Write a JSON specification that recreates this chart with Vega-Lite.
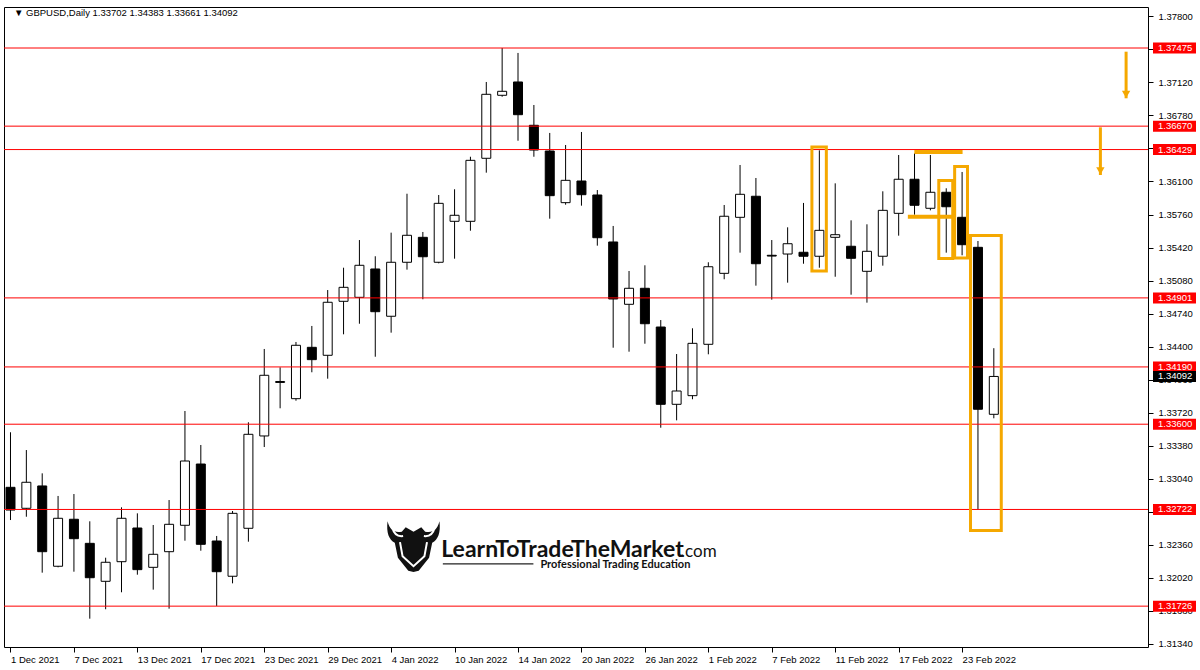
{
  "$schema": "https://vega.github.io/schema/vega-lite/v6.json",
  "autosize": {"type": "none"},
  "width": 1144,
  "height": 640,
  "padding": {"left": 4, "top": 7, "right": 52, "bottom": 23},
  "background": "#ffffff",
  "config": {
    "view": {"stroke": "#000000", "strokeWidth": 1},
    "axis": {"labelOverlap": false, "labelFlush": false, "labelBound": false, "title": null},
    "axisX": {"orient": "bottom",
              "labelExpr": "['1 Dec 2021','7 Dec 2021','13 Dec 2021','17 Dec 2021','23 Dec 2021','29 Dec 2021','4 Jan 2022','10 Jan 2022','14 Jan 2022','20 Jan 2022','26 Jan 2022','1 Feb 2022','7 Feb 2022','11 Feb 2022','17 Feb 2022','23 Feb 2022'][round(datum.value/4)]",
              "labelAlign": "left", "labelFlush": false, "tickSize": 5, "tickColor": "#000000", "labelPadding": 2,
              "domain": false, "grid": false, "labelFont": "Liberation Sans", "labelFontSize": 9.5, "labelColor": "#000000", "labelOverlap": false},
    "axisY": {"orient": "right", "format": ".5f", "tickSize": 5, "tickColor": "#000000", "labelPadding": 5, "domain": false, "grid": false,
              "labelFont": "Liberation Sans", "labelFontSize": 9.5, "labelColor": "#000000", "labelOverlap": false, "labelSeparation": 0, "labelBound": false, "labelBaseline": "middle"}
  },
  "datasets": {
    "candles": [
      {"bar":0,"date":"2021-12-01","open":1.32950,"high":1.33517,"low":1.32613,"close":1.32716},
      {"bar":1,"date":"2021-12-02","open":1.32734,"high":1.33334,"low":1.32647,"close":1.33002},
      {"bar":2,"date":"2021-12-03","open":1.32964,"high":1.33094,"low":1.32071,"close":1.32287},
      {"bar":3,"date":"2021-12-06","open":1.32137,"high":1.32861,"low":1.32126,"close":1.32631},
      {"bar":4,"date":"2021-12-07","open":1.32621,"high":1.32881,"low":1.32081,"close":1.32421},
      {"bar":5,"date":"2021-12-08","open":1.32373,"high":1.32600,"low":1.31597,"close":1.32019},
      {"bar":6,"date":"2021-12-09","open":1.31982,"high":1.32225,"low":1.31694,"close":1.32178},
      {"bar":7,"date":"2021-12-10","open":1.32184,"high":1.32744,"low":1.31869,"close":1.32631},
      {"bar":8,"date":"2021-12-13","open":1.32531,"high":1.32682,"low":1.32050,"close":1.32102},
      {"bar":9,"date":"2021-12-14","open":1.32126,"high":1.32562,"low":1.31896,"close":1.32260},
      {"bar":10,"date":"2021-12-15","open":1.32287,"high":1.32819,"low":1.31700,"close":1.32569},
      {"bar":11,"date":"2021-12-16","open":1.32559,"high":1.33736,"low":1.32400,"close":1.33221},
      {"bar":12,"date":"2021-12-17","open":1.33190,"high":1.33386,"low":1.32297,"close":1.32363},
      {"bar":13,"date":"2021-12-20","open":1.32397,"high":1.32449,"low":1.31728,"close":1.32081},
      {"bar":14,"date":"2021-12-21","open":1.32034,"high":1.32706,"low":1.31961,"close":1.32682},
      {"bar":15,"date":"2021-12-22","open":1.32528,"high":1.33620,"low":1.32390,"close":1.33496},
      {"bar":16,"date":"2021-12-23","open":1.33479,"high":1.34375,"low":1.33365,"close":1.34104},
      {"bar":17,"date":"2021-12-24","open":1.34030,"high":1.34186,"low":1.33764,"close":1.34040},
      {"bar":18,"date":"2021-12-27","open":1.33863,"high":1.34447,"low":1.33842,"close":1.34413},
      {"bar":19,"date":"2021-12-28","open":1.34392,"high":1.34612,"low":1.34135,"close":1.34265},
      {"bar":20,"date":"2021-12-29","open":1.34310,"high":1.34982,"low":1.34069,"close":1.34856},
      {"bar":21,"date":"2021-12-30","open":1.34866,"high":1.35212,"low":1.34526,"close":1.35010},
      {"bar":22,"date":"2021-12-31","open":1.34907,"high":1.35497,"low":1.34635,"close":1.35237},
      {"bar":23,"date":"2022-01-03","open":1.35199,"high":1.35330,"low":1.34295,"close":1.34759},
      {"bar":24,"date":"2022-01-04","open":1.34712,"high":1.35573,"low":1.34543,"close":1.35268},
      {"bar":25,"date":"2022-01-05","open":1.35268,"high":1.35974,"low":1.35192,"close":1.35546},
      {"bar":26,"date":"2022-01-06","open":1.35525,"high":1.35580,"low":1.34887,"close":1.35325},
      {"bar":27,"date":"2022-01-07","open":1.35268,"high":1.35961,"low":1.35257,"close":1.35875},
      {"bar":28,"date":"2022-01-10","open":1.35690,"high":1.36020,"low":1.35305,"close":1.35752},
      {"bar":29,"date":"2022-01-11","open":1.35690,"high":1.36355,"low":1.35593,"close":1.36318},
      {"bar":30,"date":"2022-01-12","open":1.36339,"high":1.37125,"low":1.36191,"close":1.36998},
      {"bar":31,"date":"2022-01-13","open":1.36988,"high":1.37475,"low":1.36973,"close":1.37029},
      {"bar":32,"date":"2022-01-14","open":1.37125,"high":1.37424,"low":1.36520,"close":1.36788},
      {"bar":33,"date":"2022-01-17","open":1.36679,"high":1.36888,"low":1.36355,"close":1.36424},
      {"bar":34,"date":"2022-01-18","open":1.36414,"high":1.36600,"low":1.35717,"close":1.35954},
      {"bar":35,"date":"2022-01-19","open":1.35882,"high":1.36476,"low":1.35861,"close":1.36112},
      {"bar":36,"date":"2022-01-20","open":1.36105,"high":1.36610,"low":1.35851,"close":1.35964},
      {"bar":37,"date":"2022-01-21","open":1.35961,"high":1.36012,"low":1.35439,"close":1.35521},
      {"bar":38,"date":"2022-01-24","open":1.35477,"high":1.35642,"low":1.34388,"close":1.34890},
      {"bar":39,"date":"2022-01-25","open":1.34835,"high":1.35178,"low":1.34347,"close":1.35000},
      {"bar":40,"date":"2022-01-26","open":1.35000,"high":1.35237,"low":1.34429,"close":1.34635},
      {"bar":41,"date":"2022-01-27","open":1.34601,"high":1.34673,"low":1.33564,"close":1.33805},
      {"bar":42,"date":"2022-01-28","open":1.33805,"high":1.34323,"low":1.33640,"close":1.33942},
      {"bar":43,"date":"2022-01-31","open":1.33894,"high":1.34588,"low":1.33857,"close":1.34433},
      {"bar":44,"date":"2022-02-01","open":1.34423,"high":1.35268,"low":1.34320,"close":1.35222},
      {"bar":45,"date":"2022-02-02","open":1.35154,"high":1.35858,"low":1.35093,"close":1.35742},
      {"bar":46,"date":"2022-02-03","open":1.35731,"high":1.36270,"low":1.35367,"close":1.35968},
      {"bar":47,"date":"2022-02-04","open":1.35948,"high":1.36136,"low":1.35027,"close":1.35253},
      {"bar":48,"date":"2022-02-07","open":1.35340,"high":1.35497,"low":1.34883,"close":1.35332},
      {"bar":49,"date":"2022-02-08","open":1.35353,"high":1.35628,"low":1.35058,"close":1.35459},
      {"bar":50,"date":"2022-02-09","open":1.35371,"high":1.35879,"low":1.35253,"close":1.35330},
      {"bar":51,"date":"2022-02-10","open":1.35330,"high":1.36421,"low":1.35212,"close":1.35597},
      {"bar":52,"date":"2022-02-11","open":1.35525,"high":1.36081,"low":1.35119,"close":1.35552},
      {"bar":53,"date":"2022-02-14","open":1.35433,"high":1.35700,"low":1.34934,"close":1.35309},
      {"bar":54,"date":"2022-02-15","open":1.35175,"high":1.35659,"low":1.34852,"close":1.35381},
      {"bar":55,"date":"2022-02-16","open":1.35330,"high":1.35999,"low":1.35233,"close":1.35803},
      {"bar":56,"date":"2022-02-17","open":1.35772,"high":1.36373,"low":1.35542,"close":1.36123},
      {"bar":57,"date":"2022-02-18","open":1.36123,"high":1.36390,"low":1.35758,"close":1.35855},
      {"bar":58,"date":"2022-02-21","open":1.35824,"high":1.36373,"low":1.35803,"close":1.35989},
      {"bar":59,"date":"2022-02-22","open":1.35989,"high":1.36030,"low":1.35367,"close":1.35840},
      {"bar":60,"date":"2022-02-23","open":1.35731,"high":1.36198,"low":1.35340,"close":1.35449},
      {"bar":61,"date":"2022-02-24","open":1.35422,"high":1.35487,"low":1.32722,"close":1.33754},
      {"bar":62,"date":"2022-02-25","open":1.33702,"high":1.34383,"low":1.33661,"close":1.34092}
    ],
    "levels": [
      {"price":1.37475},{"price":1.36670},{"price":1.36429},{"price":1.34901},
      {"price":1.34190},{"price":1.33600},{"price":1.32722},{"price":1.31726}
    ],
    "bid": [{"price":1.34092}],
    "header": [{"x":0.22,"y":1.37805,"text":"▼ GBPUSD,Daily  1.33702 1.34383 1.33661 1.34092"}],
    "boxes": [
      {"x1":50.53,"x2":51.44,"top":1.36455,"bottom":1.35178},
      {"x1":58.53,"x2":59.41,"top":1.36110,"bottom":1.35307},
      {"x1":59.53,"x2":60.34,"top":1.36255,"bottom":1.35312},
      {"x1":60.53,"x2":62.47,"top":1.35544,"bottom":1.32505}
    ],
    "marks": [
      {"x1":56.99,"x2":60.03,"price":1.36404},
      {"x1":56.58,"x2":59.53,"price":1.35737}
    ],
    "arrows": [
      {"x":70.34,"top":1.37437,"tip":1.36957},
      {"x":68.72,"top":1.36658,"tip":1.36167}
    ],
    "brand": [{"x":27.16,"y":1.32235,"text":"LearnToTradeTheMarket"}],
    "brandcom": [{"x":42.28,"y":1.32235,"text":".com"}],
    "tagline": [{"x":33.41,"y":1.32122,"text":"Professional Trading Education"}],
    "tagrule": [{"x1":27.26,"x2":32.97,"y":1.32162}],
    "icon": [{"x":25.41,"y":1.32346}]
  },
  "layer": [
    {
      "data": {"name": "candles"},
      "mark": {"type": "rule", "color": "#000000", "strokeWidth": 1, "clip": true},
      "encoding": {
        "x": {"field": "bar", "type": "quantitative", "title": null, "axis": {"values": [0,4,8,12,16,20,24,28,32,36,40,44,48,52,56,60]}, "scale": {"domain": [-0.094, 71.406], "nice": false, "zero": false}},
        "y": {"field": "low", "type": "quantitative", "title": null, "axis": {"values": [1.378,1.3746,1.3712,1.3678,1.3644,1.361,1.3576,1.3542,1.3508,1.3474,1.344,1.3406,1.3372,1.3338,1.3304,1.327,1.3236,1.3202,1.3168,1.3134]}, "scale": {"domain": [1.313053, 1.378973], "nice": false, "zero": false}},
        "y2": {"field": "high"}
      }
    },
    {
      "data": {"name": "candles"},
      "mark": {"type": "bar", "size": 9, "stroke": "#000000", "strokeWidth": 1, "clip": true},
      "encoding": {
        "x": {"field": "bar", "type": "quantitative", "title": null, "axis": {"values": [0,4,8,12,16,20,24,28,32,36,40,44,48,52,56,60]}, "scale": {"domain": [-0.094, 71.406], "nice": false, "zero": false}},
        "y": {"field": "open", "type": "quantitative", "title": null, "axis": {"values": [1.378,1.3746,1.3712,1.3678,1.3644,1.361,1.3576,1.3542,1.3508,1.3474,1.344,1.3406,1.3372,1.3338,1.3304,1.327,1.3236,1.3202,1.3168,1.3134]}, "scale": {"domain": [1.313053, 1.378973], "nice": false, "zero": false}},
        "y2": {"field": "close"},
        "fill": {"condition": {"test": "datum.close >= datum.open", "value": "#ffffff"}, "value": "#000000"}
      }
    },
    {
      "data": {"name": "levels"},
      "mark": {"type": "rule", "color": "#ff0000", "strokeWidth": 1},
      "encoding": {
        "y": {"field": "price", "type": "quantitative", "title": null, "axis": {"values": [1.378,1.3746,1.3712,1.3678,1.3644,1.361,1.3576,1.3542,1.3508,1.3474,1.344,1.3406,1.3372,1.3338,1.3304,1.327,1.3236,1.3202,1.3168,1.3134]}, "scale": {"domain": [1.313053, 1.378973], "nice": false, "zero": false}}
      }
    },
    {
      "data": {"name": "header"},
      "mark": {"type": "text", "align": "left", "baseline": "alphabetic", "font": "Liberation Sans", "fontSize": 9.5, "color": "#000000"},
      "encoding": {
        "x": {"field": "x", "type": "quantitative", "title": null, "axis": {"values": [0,4,8,12,16,20,24,28,32,36,40,44,48,52,56,60]}, "scale": {"domain": [-0.094, 71.406], "nice": false, "zero": false}},
        "y": {"field": "y", "type": "quantitative", "title": null, "axis": {"values": [1.378,1.3746,1.3712,1.3678,1.3644,1.361,1.3576,1.3542,1.3508,1.3474,1.344,1.3406,1.3372,1.3338,1.3304,1.327,1.3236,1.3202,1.3168,1.3134]}, "scale": {"domain": [1.313053, 1.378973], "nice": false, "zero": false}},
        "text": {"field": "text"}
      }
    },
    {
      "data": {"name": "boxes"},
      "mark": {"type": "rect", "fillOpacity": 0, "stroke": "#F5A800", "strokeWidth": 3},
      "encoding": {
        "x": {"field": "x1", "type": "quantitative", "title": null, "axis": {"values": [0,4,8,12,16,20,24,28,32,36,40,44,48,52,56,60]}, "scale": {"domain": [-0.094, 71.406], "nice": false, "zero": false}},
        "x2": {"field": "x2"},
        "y": {"field": "top", "type": "quantitative", "title": null, "axis": {"values": [1.378,1.3746,1.3712,1.3678,1.3644,1.361,1.3576,1.3542,1.3508,1.3474,1.344,1.3406,1.3372,1.3338,1.3304,1.327,1.3236,1.3202,1.3168,1.3134]}, "scale": {"domain": [1.313053, 1.378973], "nice": false, "zero": false}},
        "y2": {"field": "bottom"}
      }
    },
    {
      "data": {"name": "marks"},
      "mark": {"type": "rule", "color": "#F5A800", "strokeWidth": 4, "strokeCap": "butt"},
      "encoding": {
        "x": {"field": "x1", "type": "quantitative", "title": null, "axis": {"values": [0,4,8,12,16,20,24,28,32,36,40,44,48,52,56,60]}, "scale": {"domain": [-0.094, 71.406], "nice": false, "zero": false}},
        "x2": {"field": "x2"},
        "y": {"field": "price", "type": "quantitative", "title": null, "axis": {"values": [1.378,1.3746,1.3712,1.3678,1.3644,1.361,1.3576,1.3542,1.3508,1.3474,1.344,1.3406,1.3372,1.3338,1.3304,1.327,1.3236,1.3202,1.3168,1.3134]}, "scale": {"domain": [1.313053, 1.378973], "nice": false, "zero": false}}
      }
    },
    {
      "data": {"name": "arrows"},
      "mark": {"type": "rule", "color": "#F5A800", "strokeWidth": 3, "strokeCap": "butt"},
      "encoding": {
        "x": {"field": "x", "type": "quantitative", "title": null, "axis": {"values": [0,4,8,12,16,20,24,28,32,36,40,44,48,52,56,60]}, "scale": {"domain": [-0.094, 71.406], "nice": false, "zero": false}},
        "y": {"field": "top", "type": "quantitative", "title": null, "axis": {"values": [1.378,1.3746,1.3712,1.3678,1.3644,1.361,1.3576,1.3542,1.3508,1.3474,1.344,1.3406,1.3372,1.3338,1.3304,1.327,1.3236,1.3202,1.3168,1.3134]}, "scale": {"domain": [1.313053, 1.378973], "nice": false, "zero": false}},
        "y2": {"field": "tip"}
      }
    },
    {
      "data": {"name": "arrows"},
      "mark": {"type": "point", "shape": "triangle-down", "filled": true, "color": "#F5A800", "size": 70, "opacity": 1, "yOffset": -4},
      "encoding": {
        "x": {"field": "x", "type": "quantitative", "title": null, "axis": {"values": [0,4,8,12,16,20,24,28,32,36,40,44,48,52,56,60]}, "scale": {"domain": [-0.094, 71.406], "nice": false, "zero": false}},
        "y": {"field": "tip", "type": "quantitative", "title": null, "axis": {"values": [1.378,1.3746,1.3712,1.3678,1.3644,1.361,1.3576,1.3542,1.3508,1.3474,1.344,1.3406,1.3372,1.3338,1.3304,1.327,1.3236,1.3202,1.3168,1.3134]}, "scale": {"domain": [1.313053, 1.378973], "nice": false, "zero": false}}
      }
    },
    {
      "data": {"name": "icon"},
      "mark": {"type": "point", "filled": true, "color": "#111111", "opacity": 1, "size": 2700,
               "shape": "M-1,-0.95 C-0.9,-0.6 -0.75,-0.5 -0.45,-0.55 L-0.3,-0.72 L0,-0.55 L0.3,-0.72 L0.45,-0.55 C0.75,-0.5 0.9,-0.6 1,-0.95 C1.05,-0.5 0.95,-0.25 0.72,-0.12 L0.6,0.45 L0.2,0.95 L0,1 L-0.2,0.95 L-0.6,0.45 L-0.72,-0.12 C-0.95,-0.25 -1.05,-0.5 -1,-0.95 Z"},
      "encoding": {
        "x": {"field": "x", "type": "quantitative", "title": null, "axis": {"values": [0,4,8,12,16,20,24,28,32,36,40,44,48,52,56,60]}, "scale": {"domain": [-0.094, 71.406], "nice": false, "zero": false}},
        "y": {"field": "y", "type": "quantitative", "title": null, "axis": {"values": [1.378,1.3746,1.3712,1.3678,1.3644,1.361,1.3576,1.3542,1.3508,1.3474,1.344,1.3406,1.3372,1.3338,1.3304,1.327,1.3236,1.3202,1.3168,1.3134]}, "scale": {"domain": [1.313053, 1.378973], "nice": false, "zero": false}}
      }
    },
    {
      "data": {"name": "icon"},
      "mark": {"type": "point", "filled": false, "stroke": "#ffffff", "strokeWidth": 2, "opacity": 1, "size": 2700,
               "shape": "M-0.82,-0.72 C-0.75,-0.45 -0.6,-0.35 -0.4,-0.38 M0.82,-0.72 C0.75,-0.45 0.6,-0.35 0.4,-0.38 M-0.52,-0.15 L-0.42,0.4 L0,0.78 L0.42,0.4 L0.52,-0.15"},
      "encoding": {
        "x": {"field": "x", "type": "quantitative", "title": null, "axis": {"values": [0,4,8,12,16,20,24,28,32,36,40,44,48,52,56,60]}, "scale": {"domain": [-0.094, 71.406], "nice": false, "zero": false}},
        "y": {"field": "y", "type": "quantitative", "title": null, "axis": {"values": [1.378,1.3746,1.3712,1.3678,1.3644,1.361,1.3576,1.3542,1.3508,1.3474,1.344,1.3406,1.3372,1.3338,1.3304,1.327,1.3236,1.3202,1.3168,1.3134]}, "scale": {"domain": [1.313053, 1.378973], "nice": false, "zero": false}}
      }
    },
    {
      "data": {"name": "brand"},
      "mark": {"type": "text", "align": "left", "baseline": "alphabetic", "font": "Lato", "fontSize": 23, "fontWeight": "bold", "color": "#111111"},
      "encoding": {
        "x": {"field": "x", "type": "quantitative", "title": null, "axis": {"values": [0,4,8,12,16,20,24,28,32,36,40,44,48,52,56,60]}, "scale": {"domain": [-0.094, 71.406], "nice": false, "zero": false}},
        "y": {"field": "y", "type": "quantitative", "title": null, "axis": {"values": [1.378,1.3746,1.3712,1.3678,1.3644,1.361,1.3576,1.3542,1.3508,1.3474,1.344,1.3406,1.3372,1.3338,1.3304,1.327,1.3236,1.3202,1.3168,1.3134]}, "scale": {"domain": [1.313053, 1.378973], "nice": false, "zero": false}},
        "text": {"field": "text"}
      }
    },
    {
      "data": {"name": "brandcom"},
      "mark": {"type": "text", "align": "left", "baseline": "alphabetic", "font": "Lato", "fontSize": 17, "color": "#111111"},
      "encoding": {
        "x": {"field": "x", "type": "quantitative", "title": null, "axis": {"values": [0,4,8,12,16,20,24,28,32,36,40,44,48,52,56,60]}, "scale": {"domain": [-0.094, 71.406], "nice": false, "zero": false}},
        "y": {"field": "y", "type": "quantitative", "title": null, "axis": {"values": [1.378,1.3746,1.3712,1.3678,1.3644,1.361,1.3576,1.3542,1.3508,1.3474,1.344,1.3406,1.3372,1.3338,1.3304,1.327,1.3236,1.3202,1.3168,1.3134]}, "scale": {"domain": [1.313053, 1.378973], "nice": false, "zero": false}},
        "text": {"field": "text"}
      }
    },
    {
      "data": {"name": "tagline"},
      "mark": {"type": "text", "align": "left", "baseline": "alphabetic", "font": "Lato", "fontSize": 11, "fontWeight": "bold", "color": "#111111"},
      "encoding": {
        "x": {"field": "x", "type": "quantitative", "title": null, "axis": {"values": [0,4,8,12,16,20,24,28,32,36,40,44,48,52,56,60]}, "scale": {"domain": [-0.094, 71.406], "nice": false, "zero": false}},
        "y": {"field": "y", "type": "quantitative", "title": null, "axis": {"values": [1.378,1.3746,1.3712,1.3678,1.3644,1.361,1.3576,1.3542,1.3508,1.3474,1.344,1.3406,1.3372,1.3338,1.3304,1.327,1.3236,1.3202,1.3168,1.3134]}, "scale": {"domain": [1.313053, 1.378973], "nice": false, "zero": false}},
        "text": {"field": "text"}
      }
    },
    {
      "data": {"name": "tagrule"},
      "mark": {"type": "rule", "color": "#222222", "strokeWidth": 1.2},
      "encoding": {
        "x": {"field": "x1", "type": "quantitative", "title": null, "axis": {"values": [0,4,8,12,16,20,24,28,32,36,40,44,48,52,56,60]}, "scale": {"domain": [-0.094, 71.406], "nice": false, "zero": false}},
        "x2": {"field": "x2"},
        "y": {"field": "y", "type": "quantitative", "title": null, "axis": {"values": [1.378,1.3746,1.3712,1.3678,1.3644,1.361,1.3576,1.3542,1.3508,1.3474,1.344,1.3406,1.3372,1.3338,1.3304,1.327,1.3236,1.3202,1.3168,1.3134]}, "scale": {"domain": [1.313053, 1.378973], "nice": false, "zero": false}}
      }
    },
    {
      "data": {"name": "levels"},
      "mark": {"type": "tick", "color": "#ff0000", "thickness": 11, "size": 43, "xOffset": 26.5, "opacity": 1},
      "encoding": {
        "x": {"value": "width"},
        "y": {"field": "price", "type": "quantitative", "title": null, "axis": {"values": [1.378,1.3746,1.3712,1.3678,1.3644,1.361,1.3576,1.3542,1.3508,1.3474,1.344,1.3406,1.3372,1.3338,1.3304,1.327,1.3236,1.3202,1.3168,1.3134]}, "scale": {"domain": [1.313053, 1.378973], "nice": false, "zero": false}}
      }
    },
    {
      "data": {"name": "levels"},
      "mark": {"type": "text", "align": "left", "baseline": "middle", "dx": 10, "font": "Liberation Sans", "fontSize": 9.5, "color": "#ffffff"},
      "encoding": {
        "x": {"value": "width"},
        "y": {"field": "price", "type": "quantitative", "title": null, "axis": {"values": [1.378,1.3746,1.3712,1.3678,1.3644,1.361,1.3576,1.3542,1.3508,1.3474,1.344,1.3406,1.3372,1.3338,1.3304,1.327,1.3236,1.3202,1.3168,1.3134]}, "scale": {"domain": [1.313053, 1.378973], "nice": false, "zero": false}},
        "text": {"field": "price", "type": "quantitative", "format": ".5f"}
      }
    },
    {
      "data": {"name": "bid"},
      "mark": {"type": "tick", "color": "#000000", "thickness": 11, "size": 43, "xOffset": 26.5, "opacity": 1},
      "encoding": {
        "x": {"value": "width"},
        "y": {"field": "price", "type": "quantitative", "title": null, "axis": {"values": [1.378,1.3746,1.3712,1.3678,1.3644,1.361,1.3576,1.3542,1.3508,1.3474,1.344,1.3406,1.3372,1.3338,1.3304,1.327,1.3236,1.3202,1.3168,1.3134]}, "scale": {"domain": [1.313053, 1.378973], "nice": false, "zero": false}}
      }
    },
    {
      "data": {"name": "bid"},
      "mark": {"type": "text", "align": "left", "baseline": "middle", "dx": 10, "font": "Liberation Sans", "fontSize": 9.5, "color": "#ffffff"},
      "encoding": {
        "x": {"value": "width"},
        "y": {"field": "price", "type": "quantitative", "title": null, "axis": {"values": [1.378,1.3746,1.3712,1.3678,1.3644,1.361,1.3576,1.3542,1.3508,1.3474,1.344,1.3406,1.3372,1.3338,1.3304,1.327,1.3236,1.3202,1.3168,1.3134]}, "scale": {"domain": [1.313053, 1.378973], "nice": false, "zero": false}},
        "text": {"field": "price", "type": "quantitative", "format": ".5f"}
      }
    }
  ]
}
